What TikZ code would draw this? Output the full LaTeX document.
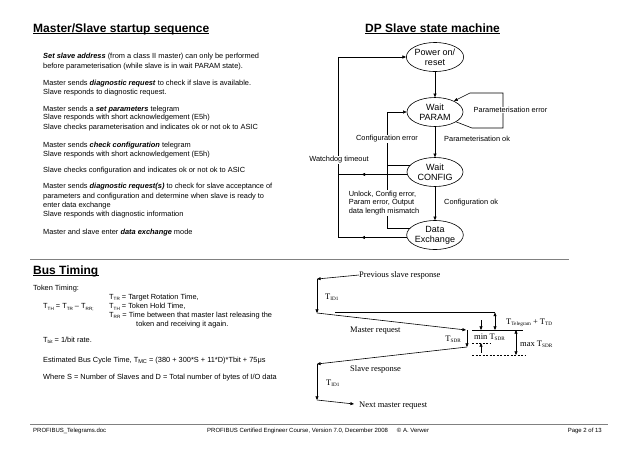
\documentclass[tikz,border=0pt]{standalone}
\usepackage{fontspec}
\setmainfont{Liberation Sans}
\newfontfamily\serifft{Liberation Serif}
\usetikzlibrary{arrows.meta,shapes.geometric,decorations.markings}
\newcommand{\sbs}[1]{\raisebox{-0.3ex}{\fontsize{4.6}{5}\selectfont #1}}
\newcommand{\tsbs}[1]{\raisebox{-0.25ex}{\fontsize{5.2}{5}\selectfont #1}}
\begin{document}
\begin{tikzpicture}[x=1pt,y=-1pt,
 arr/.style={-{Triangle[length=3.6pt,width=3pt]}, line width=0.6pt},
 dbl/.style={{Triangle[length=3.6pt,width=3pt]}-{Triangle[length=3.6pt,width=3pt]}, line width=0.6pt},
 ln/.style={line width=0.6pt},
 dsh/.style={line width=0.6pt, dash pattern=on 2pt off 1.5pt},
 midarr/.style={line width=0.6pt, postaction={decorate}, decoration={markings, mark=at position #1 with {\arrow{Triangle[length=3.6pt,width=3pt]}}}},
 body/.style={anchor=base west, inner sep=0pt, font=\fontsize{7.4}{8.8}\selectfont},
 ttl/.style={anchor=base west, inner sep=0pt, font=\fontsize{12}{14}\selectfont\bfseries},
 uline/.style={line width=0.9pt},
 state/.style={ellipse, draw, line width=0.6pt, minimum width=56pt, minimum height=29pt, inner sep=0pt, align=center, font=\fontsize{9}{10}\selectfont},
 lab/.style={inner sep=1pt, font=\fontsize{7.4}{8.7}\selectfont},
 tlab/.style={inner sep=0pt, anchor=west, font=\serifft\fontsize{8.5}{9}\selectfont},
 sepline/.style={draw=gray, line width=1pt},
 foot/.style={anchor=base west, inner sep=0pt, font=\fontsize{6}{7}\selectfont}]
\useasboundingbox[fill=white] (0,0) rectangle (638,451);

% ---------- titles ----------
\node[ttl] (t1) at (33,32) {Master/Slave startup sequence};
\node[ttl] (t2) at (365,32) {DP Slave state machine};
\node[ttl] (t3) at (33,274) {Bus Timing};
\draw[uline] ([yshift=-1.8pt]t1.base west) -- ([yshift=-1.8pt]t1.base east);
\draw[uline] ([yshift=-1.8pt]t2.base west) -- ([yshift=-1.8pt]t2.base east);
\draw[uline] ([yshift=-1.8pt]t3.base west) -- ([yshift=-1.8pt]t3.base east);

% ---------- startup sequence text ----------
\node[body] (l1) at (43,58.9) {\textbf{\textit{Set slave address}} (from a class II master) can only be performed};
\node[body] (l2) at (43,68.5) {before parameterisation (while slave is in wait PARAM state).};
\node[body] (l3) at (43,85.5) {Master sends \textbf{\textit{diagnostic request}} to check if slave is available.};
\node[body] (l4) at (43,94.2) {Slave responds to diagnostic request.};
\node[body] (l5) at (43,111.2) {Master sends a \textbf{\textit{set parameters}} telegram};
\node[body] (l6) at (43,119.9) {Slave responds with short acknowledgement (E5h)};
\node[body] (l7) at (43,129.2) {Slave checks parameterisation and indicates ok or not ok to ASIC};
\node[body] (l8) at (43,147.2) {Master sends \textbf{\textit{check configuration}} telegram};
\node[body] (l9) at (43,156.2) {Slave responds with short acknowledgement (E5h)};
\node[body] (l10) at (43,172.9) {Slave checks configuration and indicates ok or not ok to ASIC};
\node[body] (l11) at (43,188.9) {Master sends \textbf{\textit{diagnostic request(s)}} to check for slave acceptance of};
\node[body] (l12) at (43,198.2) {parameters and configuration and determine when slave is ready to};
\node[body] (l13) at (43,207.9) {enter data exchange};
\node[body] (l14) at (43,216.5) {Slave responds with diagnostic information};
\node[body] (l15) at (43,234.5) {Master and slave enter \textbf{\textit{data exchange}} mode};

% ---------- state machine ----------
\node[state] (pwr) at (435,57) {Power on/\\reset};
\node[state] (param) at (435,112) {Wait\\PARAM};
\node[state] (cfg) at (435,172) {Wait\\CONFIG};
\node[state] (dx) at (435,235) {Data\\Exchange};

\draw[arr] (pwr) -- (param);
\draw[arr] (param) -- (cfg);
\draw[arr] (cfg) -- (dx);

\coordinate (pe1) at (472,128);
\coordinate (pe2) at (503,128);
\coordinate (pe3) at (503,93);
\coordinate (pe4) at (470,93);
\draw[arr] (param.-25) -- (pe1) -- (pe2) -- (pe3) -- (pe4) -- (param.30);

\coordinate (ce) at (387,112);
\draw[arr] (dx.165) -| (ce) -- (param.west);
\draw[ln] (cfg.165) -- (cfg.165 -| ce);

\coordinate (wd) at (338,57);
\draw[midarr=0.66] (cfg.185) -- (cfg.185 -| wd);
\draw[midarr=0.66] (dx.185) -- (dx.185 -| wd);
\draw[arr] (dx.185 -| wd) -- (wd) -- (pwr.west);

\node[lab, fill=white, inner sep=0.5pt] (lpe) at (473,110) [anchor=west] {Parameterisation error};
\node[lab, fill=white] (lce) at (387,139) {Configuration error};
\node[lab] (lpo) at (443,139) [anchor=west] {Parameterisation ok};
\node[lab, fill=white] (lwd) at (339,160) {Watchdog timeout};
\node[lab, fill=white, align=left] (lun) at (384,203) {Unlock, Config error,\\Param error, Output\\data length mismatch};
\node[lab] (lco) at (443,203) [anchor=west] {Configuration ok};

% ---------- separators ----------
\coordinate (s1) at (30,259);
\coordinate (s2) at (569,259);
\draw[sepline] (s1) -- (s2);
\coordinate (s3) at (30,424);
\coordinate (s4) at (608,424);
\draw[sepline] (s3) -- (s4);

% ---------- bus timing text ----------
\node[body] (b1) at (33,290.5) {Token Timing:};
\node[body] (b2) at (43,308.9) {T\sbs{TH} = T\sbs{TR} -- T\sbs{RR;}};
\node[body] (b3) at (109,299.5) {T\sbs{TR} = Target Rotation Time,};
\node[body] (b4) at (109,308.9) {T\sbs{TH} = Token Hold Time,};
\node[body] (b5) at (109,317.5) {T\sbs{RR} = Time between that master last releasing the};
\node[body] (b6) at (136,326.5) {token and receiving it again.};
\node[body] (b7) at (43,342.2) {T\sbs{bit} = 1/bit rate.};
\node[body] (b8) at (43,362.2) {Estimated Bus Cycle Time, T\raisebox{-0.4ex}{\fontsize{5.6}{6}\selectfont MC} = (380 + 300*S + 11*D)*Tbit + 75μs};
\node[body] (b9) at (43,379.9) {Where S = Number of Slaves and D = Total number of bytes of I/O data};

% ---------- timing diagram ----------
\node[tlab] (prev) at (359,275) {Previous slave response};
\coordinate (a1) at (317,279);
\coordinate (a2) at (317,313);
\coordinate (a3) at (466,330);
\draw[arr] (prev.west) -- (a1);
\draw[arr] (a1) -- (a2);
\node[tlab] (tid1) at (325,297) {T\tsbs{ID1}};
\draw[arr] (a2) -- (a3);
\node[tlab] (mreq) at (350,331) {Master request};

\coordinate (h1) at (335,312.5);
\coordinate (h2) at (495,312.5);
\coordinate (h3) at (495,330);
\draw[ln] (h1) -- (h2);
\draw[dbl] (h2) -- (h3);
\coordinate (r1) at (472,330);
\coordinate (r2) at (523,330);
\draw[ln] (r1) -- (r2);
\node[tlab] (ttel) at (506,323) {T\tsbs{Telegram} + T\tsbs{TD}};

\coordinate (m1) at (481,320);
\coordinate (m2) at (481,330);
\coordinate (m3) at (481,353);
\coordinate (m4) at (481,343);
\draw[arr] (m1) -- (m2);
\draw[arr] (m3) -- (m4);
\coordinate (d1) at (472,343);
\coordinate (d2) at (491,343);
\draw[dsh] (d1) -- (d2);
\node[tlab] (mins) at (474,337.5) {min T\tsbs{SDR}};

\coordinate (x1) at (516,330);
\coordinate (x2) at (516,355);
\draw[dbl] (x1) -- (x2);
\coordinate (d3) at (472,355);
\coordinate (d4) at (526,355);
\draw[dsh] (d3) -- (d4);
\node[tlab] (maxs) at (520,344) {max T\tsbs{SDR}};

\coordinate (v1) at (467,330);
\coordinate (v2) at (467,347);
\draw[arr] (v1) -- (v2);
\node[tlab, anchor=east] (tsdr) at (461,339) {T\tsbs{SDR}};

\coordinate (a4) at (317,364);
\coordinate (a5) at (317,400);
\coordinate (a6) at (354,404);
\draw[arr] (v2) -- (a4);
\node[tlab] (sresp) at (350,369.5) {Slave response};
\draw[arr] (a4) -- (a5);
\node[tlab] (tid2) at (326,383) {T\tsbs{ID1}};
\node[tlab] (nreq) at (359,405.5) {Next master request};
\draw[arr] (a5) -- (a6);

% ---------- footer ----------
\node[foot] (f1) at (33,432.5) {PROFIBUS\_Telegrams.doc};
\node[foot] (f2) at (207,432.5) {PROFIBUS Certified Engineer Course, Version 7.0, December 2008\hspace{9pt}© A. Verwer};
\node[foot, anchor=base east] (f3) at (602,432.5) {Page 2 of 13};
\end{tikzpicture}
\end{document}
